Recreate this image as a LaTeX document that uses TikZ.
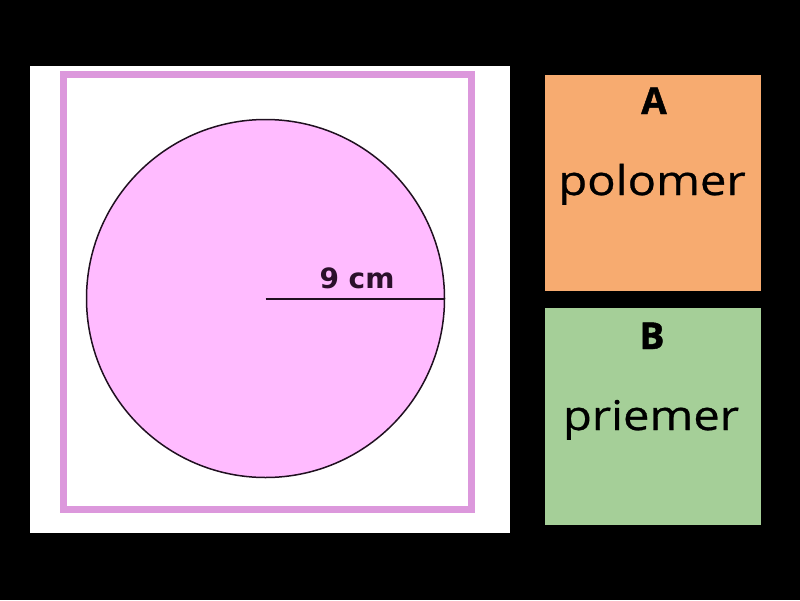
\documentclass[tikz,border=0pt]{standalone}
\usepackage{fontspec}
\setmainfont{Open Sans}
\newfontfamily\widefont[FakeStretch=1.15,FakeBold=0.7]{Open Sans}
\newfontfamily\letterfont[FakeBold=1.2]{Open Sans Bold}
\newfontfamily\labfont{DejaVu Sans}
\definecolor{bgblack}{HTML}{000000}
\definecolor{framepink}{HTML}{DC98DC}
\definecolor{circfill}{HTML}{FFBBFF}
\definecolor{circline}{HTML}{201020}
\definecolor{boxorange}{HTML}{F7AB70}
\definecolor{boxgreen}{HTML}{A5CF98}
\definecolor{labcol}{HTML}{2B102B}
\tikzset{
  answerbox/.style={draw=none, minimum width=216pt, minimum height=216pt, inner sep=0pt},
  letterlab/.style={anchor=base, inner sep=0pt, font=\letterfont\fontsize{37}{40}\selectfont},
  wordlab/.style={anchor=base, inner sep=0pt, font=\widefont\fontsize{41}{46}\selectfont},
}
\begin{document}
\begin{tikzpicture}[x=1pt,y=-1pt]
\useasboundingbox (0,0) rectangle (800,600);
\fill[bgblack] (0,0) rectangle (800,600);
% picture panel
\fill[white] (30,66) rectangle (510,533);
\draw[framepink, line width=7pt] (63.5,74.5) rectangle (471.5,509.5);
\node[circle, fill=circfill, draw=circline, line width=1.5pt, minimum size=358pt, inner sep=0pt] (circ) at (265.5,298.5) {};
\draw[circline, line width=2pt] (circ.center) -- (circ.east);
\node[anchor=base, inner sep=0pt, text=labcol, font=\labfont\bfseries\fontsize{28}{32}\selectfont] (rad) at (357,288) {9 cm};
% answer boxes
\node[answerbox, fill=boxorange] (boxA) at (653,183) {};
\node[answerbox, fill=boxgreen, minimum height=217pt] (boxB) at (653,416.5) {};
\node[letterlab] (labA) at (654,114) {A};
\node[wordlab] (wordA) at (652,195) {polomer};
\node[letterlab] (labB) at (652,349) {B};
\node[wordlab] (wordB) at (651,430) {priemer};
\end{tikzpicture}
\end{document}
